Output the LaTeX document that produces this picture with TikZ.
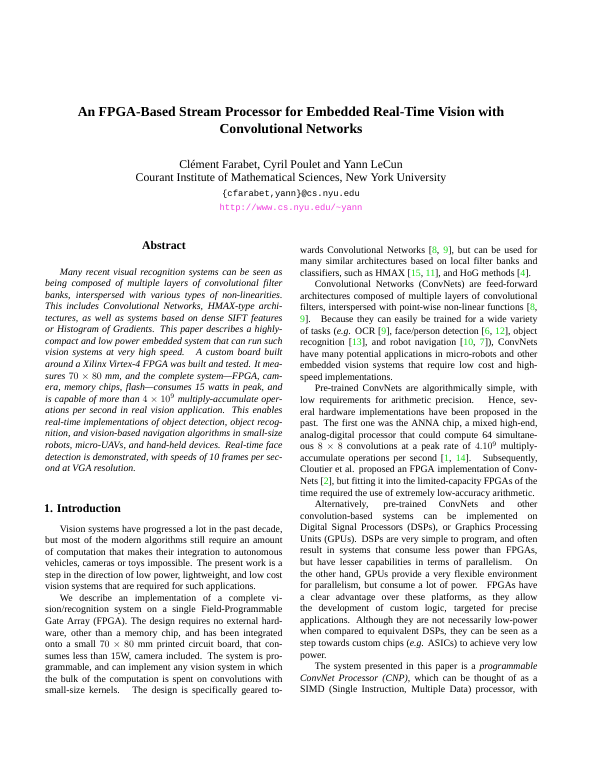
\documentclass[tikz,border=0pt]{standalone}
\usepackage{fontspec}
\setmainfont{Liberation Serif}
\setmonofont{Liberation Mono}
\usepackage{xcolor}
\usepackage{tikz}
\usetikzlibrary{positioning}
\definecolor{citegreen}{RGB}{20,215,20}
\definecolor{urlpink}{RGB}{240,60,220}
\tikzstyle{column} = [anchor=north west,inner sep=0,text width=242pt,align=justify,font=\fontsize{10}{11.8}\selectfont]
\tikzstyle{heading} = [inner sep=0,font=\fontsize{12}{14}\selectfont\bfseries]
\newcommand\rf[1]{\textcolor{citegreen}{#1}}
\newcommand\ind{\hspace*{15pt}}
\hfuzz=20pt
\begin{document}
\begin{tikzpicture}[x=1.02pt,y=-1.02pt]
        \useasboundingbox (0,0) rectangle (600,776);
        % title and authors
        \node[inner sep=0,align=center,font=\fontsize{14}{17.3}\selectfont\bfseries] (T0) at (291,120)
            {An FPGA-Based Stream Processor for Embedded Real-Time Vision with\\Convolutional Networks};
        \node[inner sep=0,align=center,font=\fontsize{12}{13.3}\selectfont] (T1) at (291,172.5)
            {Cl\'ement Farabet, Cyril Poulet and Yann LeCun\\Courant Institute of Mathematical Sciences, New York University};
        \node[inner sep=0,font=\fontsize{9}{10}\ttfamily] (T2) at (291,194) {\{cfarabet,yann\}@cs.nyu.edu};
        \node[inner sep=0,font=\fontsize{9}{10}\ttfamily,text=urlpink] (T3) at (291,208) {http://www.cs.nyu.edu/\~{}yann};
        % left column
        \node[heading] (A0) at (164,245) {Abstract};
        \node[column,font=\fontsize{10}{11.8}\selectfont\itshape] (A1) at (45,268) {%
\ind Many recent visual recognition systems can be seen as\linebreak
being composed of multiple layers of convolutional filter\linebreak
banks, interspersed with various types of non-linearities.\linebreak
This includes Convolutional Networks, HMAX-type archi-\linebreak
tectures, as well as systems based on dense SIFT features\linebreak
or Histogram of Gradients. This paper describes a highly-\linebreak
compact and low power embedded system that can run such\linebreak
vision systems at very high speed. \ A custom board built\linebreak
around a Xilinx Virtex-4 FPGA was built and tested. It mea-\linebreak
sures $70\times80$ mm, and the complete system---FPGA, cam-\linebreak
era, memory chips, flash---consumes 15 watts in peak, and\linebreak
is capable of more than $4\times10^9$ multiply-accumulate oper-\linebreak
ations per second in real vision application. This enables\linebreak
real-time implementations of object detection, object recog-\linebreak
nition, and vision-based navigation algorithms in small-size\linebreak
robots, micro-UAVs, and hand-held devices. Real-time face\linebreak
detection is demonstrated, with speeds of 10 frames per sec-\linebreak
ond at VGA resolution.};
        \node[heading,anchor=west] (I0) at (44,508) {1. Introduction};
        \node[column] (I1) at (45,525) {%
\ind Vision systems have progressed a lot in the past decade,\linebreak
but most of the modern algorithms still require an amount\linebreak
of computation that makes their integration to autonomous\linebreak
vehicles, cameras or toys impossible. The present work is a\linebreak
step in the direction of low power, lightweight, and low cost\linebreak
vision systems that are required for such applications.\par
\ind We describe an implementation of a complete vi-\linebreak
sion/recognition system on a single Field-Programmable\linebreak
Gate Array (FPGA). The design requires no external hard-\linebreak
ware, other than a memory chip, and has been integrated\linebreak
onto a small $70\times80$ mm printed circuit board, that con-\linebreak
sumes less than 15W, camera included. The system is pro-\linebreak
grammable, and can implement any vision system in which\linebreak
the bulk of the computation is spent on convolutions with\linebreak
small-size kernels. \ The design is specifically geared to-{\parfillskip=0pt\par}};
        % right column
        \node[column] (R1) at (300,246) {%
wards Convolutional Networks [\rf{8}, \rf{9}], but can be used for\linebreak
many similar architectures based on local filter banks and\linebreak
classifiers, such as HMAX [\rf{15}, \rf{11}], and HoG methods [\rf{4}].\par
\ind Convolutional Networks (ConvNets) are feed-forward\linebreak
architectures composed of multiple layers of convolutional\linebreak
filters, interspersed with point-wise non-linear functions [\rf{8},\linebreak
\rf{9}]. \ Because they can easily be trained for a wide variety\linebreak
of tasks (\emph{e.g.} OCR [\rf{9}], face/person detection [\rf{6}, \rf{12}], object\linebreak
recognition [\rf{13}], and robot navigation [\rf{10}, \rf{7}]), ConvNets\linebreak
have many potential applications in micro-robots and other\linebreak
embedded vision systems that require low cost and high-\linebreak
speed implementations.\par
\ind Pre-trained ConvNets are algorithmically simple, with\linebreak
low requirements for arithmetic precision. \ Hence, sev-\linebreak
eral hardware implementations have been proposed in the\linebreak
past. The first one was the ANNA chip, a mixed high-end,\linebreak
analog-digital processor that could compute 64 simultane-\linebreak
ous $8\times8$ convolutions at a peak rate of $4.10^9$ multiply-\linebreak
accumulate operations per second [\rf{1}, \rf{14}]. \ Subsequently,\linebreak
Cloutier et al. proposed an FPGA implementation of Conv-\linebreak
Nets [\rf{2}], but fitting it into the limited-capacity FPGAs of the\linebreak
time required the use of extremely low-accuracy arithmetic.\par
\ind Alternatively, pre-trained ConvNets and other\linebreak
convolution-based systems can be implemented on\linebreak
Digital Signal Processors (DSPs), or Graphics Processing\linebreak
Units (GPUs). DSPs are very simple to program, and often\linebreak
result in systems that consume less power than FPGAs,\linebreak
but have lesser capabilities in terms of parallelism. \ On\linebreak
the other hand, GPUs provide a very flexible environment\linebreak
for parallelism, but consume a lot of power. \ FPGAs have\linebreak
a clear advantage over these platforms, as they allow\linebreak
the development of custom logic, targeted for precise\linebreak
applications. Although they are not necessarily low-power\linebreak
when compared to equivalent DSPs, they can be seen as a\linebreak
step towards custom chips (\emph{e.g.} ASICs) to achieve very low\linebreak
power.\par
\ind The system presented in this paper is a \emph{programmable\linebreak
ConvNet Processor (CNP)}, which can be thought of as a\linebreak
SIMD (Single Instruction, Multiple Data) processor, with{\parfillskip=0pt\par}};
    \end{tikzpicture}
\end{document}
